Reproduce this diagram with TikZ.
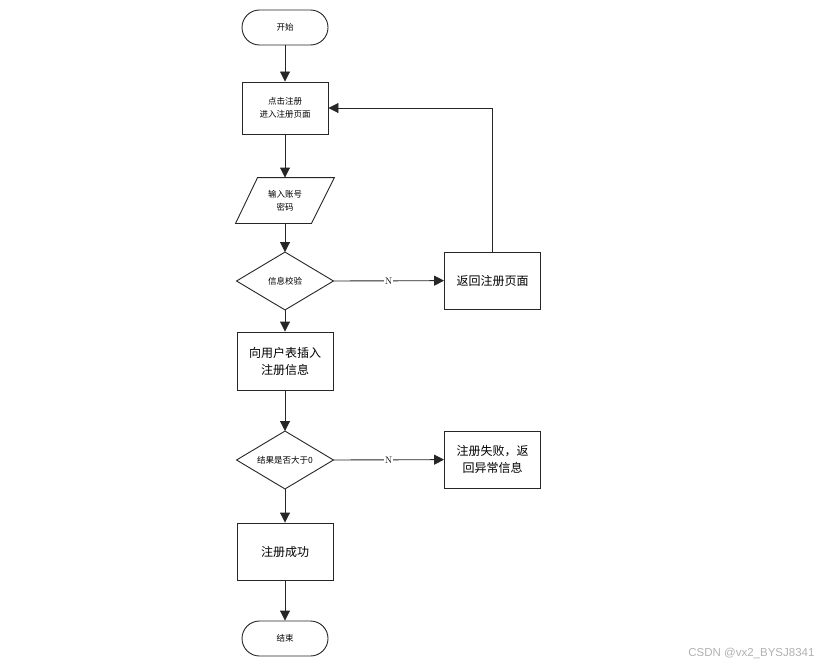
\documentclass[tikz,border=0pt]{standalone}
\usepackage{fontspec}
\newfontfamily\cjk{Noto Sans CJK SC}
\newfontfamily\wmfont{Liberation Sans}
\usetikzlibrary{shapes.geometric,arrows.meta}
\begin{document}
\begin{tikzpicture}[x=1pt,y=-1pt,
 base/.style={draw=black!85, line width=0.9pt, font=\cjk\fontsize{8.5}{13}\selectfont, align=center, inner sep=0pt},
 term/.style={base, minimum width=86pt, minimum height=35pt, rounded corners=17.5pt},
 proc/.style={base, minimum width=96pt, minimum height=57pt},
 big/.style={font=\cjk\fontsize{12}{17}\selectfont},
 dec/.style={base, draw=none, minimum width=96pt, minimum height=57pt},
 outline/.style={line width=0.9pt, draw=black!85},
 arr/.style={-{Triangle[length=10pt,width=10pt]}, line width=0.9pt, draw=black!85},
 lab/.style={fill=white, inner sep=1pt, font=\fontsize{9.5}{10}\selectfont}
]
\useasboundingbox[fill=white] (0,0) rectangle (838,669);

\node[term] (start) at (285,27.5) {开始};
\node[proc, minimum width=86pt, minimum height=52pt] (click) at (285,108) {点击注册\\进入注册页面};
\node[base, draw=none, minimum width=76pt, minimum height=45pt] (input) at (285,200.5) {输入账号\\密码};
\draw[outline]
  ([xshift=11pt]input.north west) -- ([xshift=11pt]input.north east)
  -- ([xshift=-12pt]input.south east) -- ([xshift=-11pt]input.south west) -- cycle;
\node[dec] (check) at (285,281) {信息校验};
\draw[outline] (check.north) -- (check.east) -- (check.south) -- (check.west) -- cycle;
\node[proc, big] (back) at (492.5,280.5) {返回注册页面};
\node[proc, big, minimum height=58pt] (insert) at (285,361) {向用户表插入\\注册信息};
\node[dec] (res) at (285,460) {结果是否大于0};
\draw[outline] (res.north) -- (res.east) -- (res.south) -- (res.west) -- cycle;
\node[proc, big] (fail) at (492.5,459.5) {注册失败，返\\回异常信息};
\node[proc, big] (ok) at (285,551.5) {注册成功};
\node[term] (stop) at (285,638.5) {结束};

\draw[arr] (start) -- (click);
\draw[arr] (click) -- (input.north);
\draw[arr] (input.south) -- (check.north);
\draw[arr] (check.east) -- node[lab] {N} (back);
\draw[arr] (back.north) |- (click.east);
\draw[arr] (check.south) -- (insert);
\draw[arr] (insert) -- (res.north);
\draw[arr] (res.east) -- node[lab] {N} (fail);
\draw[arr] (res.south) -- (ok);
\draw[arr] (ok) -- (stop);

\node[font=\wmfont\fontsize{11.5}{12}\selectfont, text=black!30, anchor=east] (wm) at (818,653) {CSDN @vx2\_BYSJ8341};
\end{tikzpicture}
\end{document}
